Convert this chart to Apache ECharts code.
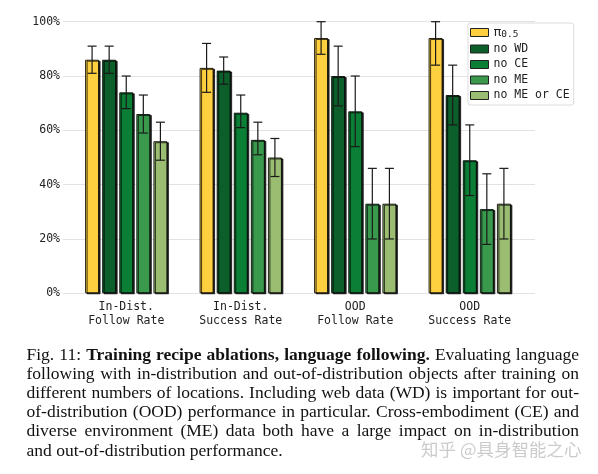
<!DOCTYPE html>
<html>
<head>
<meta charset="utf-8">
<script src="https://cdn.jsdelivr.net/npm/echarts@6/dist/echarts.min.js"></script>
<style>html,body{margin:0;padding:0;background:#fff}#c{width:598px;height:474px}</style>
</head>
<body>
<div id="c"></div>
<script>
// ---- data ----
const categories = ['In-Dist.\nFollow Rate', 'In-Dist.\nSuccess Rate', 'OOD\nFollow Rate', 'OOD\nSuccess Rate'];
const seriesNames = ['π0.5', 'no WD', 'no CE', 'no ME', 'no ME or CE'];
const pi05 = [86, 83, 94, 94];
const noWD = [86, 82, 80, 73];
const noCE = [74, 66.5, 67, 49];
const noME = [66, 56.5, 33, 31];
const noMEorCE = [56, 50, 33, 33];
const pi05Err = [[81, 91], [74, 92], [88, 100], [84, 100]];
const noWDErr = [[81, 91], [77, 87], [69, 91], [62, 84]];
const noCEErr = [[68, 80], [61, 73], [54, 80], [36, 62]];
const noMEErr = [[59, 73], [51, 63], [20, 46], [18, 44]];
const noMEorCEErr = [[49, 63], [43, 57], [20, 46], [20, 46]];
const yTicks = [0, 20, 40, 60, 80, 100];
const captionLines = [
  [['Fig. 11: ', false], ['Training recipe ablations, language following.', true], [' Evaluating language', false]],
  [['following with in-distribution and out-of-distribution objects after training on', false]],
  [['different numbers of locations. Including web data (WD) is important for out-', false]],
  [['of-distribution (OOD) performance in particular. Cross-embodiment (CE) and', false]],
  [['diverse environment (ME) data both have a large impact on in-distribution', false]],
  [['and out-of-distribution performance.', false]]
];
const watermark = '知乎 @具身智能之心';

// ---- style ----
const colors = ['#FECF3E', '#0C5E2A', '#0B7F35', '#399A4E', '#9BBD72'];
const BAR_W = 14, GAP_RATIO = 0.22, PITCH = BAR_W * (1 + GAP_RATIO);
const MONO = '"DejaVu Sans Mono", monospace';
const values = [pi05, noWD, noCE, noME, noMEorCE];
const errs = [pi05Err, noWDErr, noCEErr, noMEErr, noMEorCEErr];

const chart = echarts.init(document.getElementById('c'), null, {renderer: 'canvas'});

function errRender(sIdx) {
  return function (params, api) {
    const c = api.value(0);
    const lo = api.coord([c, api.value(1)]);
    const hi = api.coord([c, api.value(2)]);
    const x = lo[0] + (sIdx - 2) * PITCH;
    const cap = 4.5;
    const st = {stroke: '#1a1a1a', lineWidth: 1.2};
    return {type: 'group', children: [
      {type: 'line', shape: {x1: x, y1: lo[1], x2: x, y2: hi[1]}, style: st},
      {type: 'line', shape: {x1: x - cap, y1: hi[1], x2: x + cap, y2: hi[1]}, style: st},
      {type: 'line', shape: {x1: x - cap, y1: lo[1], x2: x + cap, y2: lo[1]}, style: st}
    ]};
  };
}

const series = [];
values.forEach((v, i) => {
  series.push({
    name: seriesNames[i], type: 'bar', xAxisIndex: 0, yAxisIndex: 0,
    data: v, barWidth: BAR_W, barGap: (GAP_RATIO * 100) + '%',
    itemStyle: {color: colors[i], borderColor: 'rgba(0,0,0,0.85)', borderWidth: 1,
      shadowColor: 'rgba(0,0,0,0.85)', shadowOffsetX: 1.5, shadowOffsetY: 1, shadowBlur: 0},
    emphasis: {disabled: true}, z: 2
  });
});
errs.forEach((e, i) => {
  series.push({
    type: 'custom', xAxisIndex: 0, yAxisIndex: 0, z: 4,
    renderItem: errRender(i),
    data: e.map((d, k) => [k, d[0], d[1]]),
    encode: {x: 0, y: [1, 2]}
  });
});

// caption: justified word placement
const measureCtx = document.createElement('canvas').getContext('2d');
const CAP_SIZE = 17.5, CAP_FAMILY = '"Liberation Serif", "Times New Roman", serif';
const CAP_LEFT = 26.5, CAP_RIGHT = 579, CAP_TOP = 355, CAP_LH = 19.2;
const graphics = [];
captionLines.forEach((segs, li) => {
  const words = [];
  segs.forEach(([t, b]) => t.split(' ').filter(w => w.length).forEach(w => words.push([w, b])));
  let total = 0;
  const widths = words.map(([w, b]) => {
    measureCtx.font = (b ? 'bold ' : '') + CAP_SIZE + 'px ' + CAP_FAMILY;
    const m = measureCtx.measureText(w).width; total += m; return m;
  });
  measureCtx.font = CAP_SIZE + 'px ' + CAP_FAMILY;
  const spaceW = measureCtx.measureText(' ').width;
  const last = li === captionLines.length - 1;
  const gap = last ? spaceW : (CAP_RIGHT - CAP_LEFT - total) / (words.length - 1);
  let x = CAP_LEFT;
  words.forEach(([w, b], k) => {
    graphics.push({type: 'text', x: x, y: CAP_TOP + li * CAP_LH, silent: true,
      style: {text: w, fontSize: CAP_SIZE, fontFamily: CAP_FAMILY, fontWeight: b ? 'bold' : 'normal',
        fill: '#111', verticalAlign: 'middle', align: 'left'}});
    x += widths[k] + gap;
  });
});
graphics.push({type: 'text', x: 421, y: 449, silent: true, z: 10,
  style: {text: watermark, fontSize: 17.5, fontFamily: '"Noto Sans CJK SC", sans-serif',
    fill: 'rgba(190,190,190,0.8)', stroke: 'rgba(255,255,255,0.6)', lineWidth: 1,
    verticalAlign: 'middle', align: 'left'}});

chart.setOption({
  animation: false,
  backgroundColor: '#fff',
  grid: [
    {left: 69, right: 71, top: 21.7, bottom: 180.7},
    {left: 63, right: 63, top: 21.7, bottom: 180.7}
  ],
  xAxis: [
    {type: 'category', gridIndex: 0, data: categories,
      axisLine: {show: false}, axisTick: {show: false},
      axisLabel: {fontFamily: MONO, fontSize: 11.5, color: '#222', lineHeight: 14, margin: 7}},
    {type: 'value', gridIndex: 1, show: false, min: 0, max: 1}
  ],
  yAxis: [
    {type: 'value', gridIndex: 0, min: 0, max: 100, show: false},
    {type: 'value', gridIndex: 1, min: yTicks[0], max: yTicks[yTicks.length - 1], interval: yTicks[1] - yTicks[0],
      axisLine: {show: false}, axisTick: {show: false},
      splitLine: {lineStyle: {color: '#e2e2e2', width: 1}},
      axisLabel: {formatter: '{value}%', fontFamily: MONO, fontSize: 11.5, color: '#222', margin: 3}}
  ],
  legend: {
    data: seriesNames, orient: 'vertical', left: 468, top: 23,
    padding: [3, 4, 3, 2], itemGap: 2.5, itemWidth: 18, itemHeight: 8, icon: 'rect',
    backgroundColor: '#fff', borderColor: '#dcdcdc', borderWidth: 1, borderRadius: 2,
    itemStyle: {borderColor: '#222', borderWidth: 1, shadowColor: 'transparent', shadowOffsetX: 0, shadowOffsetY: 0},
    textStyle: {fontFamily: MONO, fontSize: 11.5, color: '#222', lineHeight: 13,
      rich: {p: {fontFamily: MONO, fontSize: 13, color: '#222'}, s: {fontFamily: MONO, fontSize: 9.5, color: '#222', padding: [5, 0, 0, 0]}}},
    formatter: n => n === seriesNames[0] ? '{p|π}{s|0.5}' : n,
    selectedMode: false, z: 10
  },
  series: series,
  graphic: graphics
});
</script>
</body>
</html>
